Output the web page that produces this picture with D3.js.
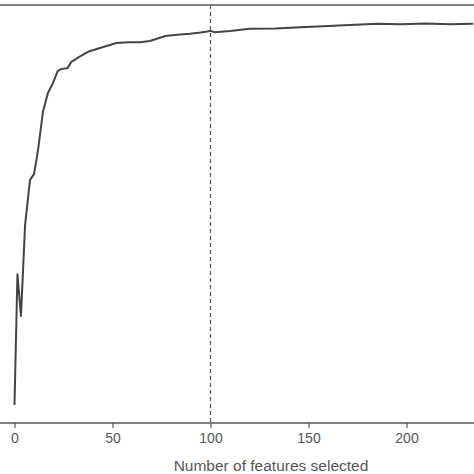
<!DOCTYPE html><html><head><meta charset="utf-8">
<script src="https://cdn.jsdelivr.net/npm/d3@7"></script>
<style>body{margin:0;background:#fff}</style></head><body><svg id="c" width="474" height="474"></svg>
<script>
const features=[0,1.5,3.3,5.4,7.9,10,12,14.5,17,19.6,22,24,27,29,33,37.5,43.6,52,58,64,69,77,83,89.5,95,100,102,110,120,133,146,160,171,185,197,210,222,234];
const scores=[0.043,0.356,0.256,0.474,0.581,0.596,0.653,0.744,0.789,0.813,0.842,0.847,0.849,0.864,0.876,0.888,0.897,0.909,0.911,0.911,0.914,0.926,0.929,0.931,0.934,0.938,0.935,0.938,0.943,0.944,0.947,0.950,0.952,0.955,0.954,0.956,0.954,0.955];
const xTicks=[0,50,100,150,200];
const selected=100;
const svg=d3.select("#c");
const x=d3.scaleLinear().domain([0,50]).range([14.5,112.5]);
const y=d3.scaleLinear().domain([0,1]).range([423,5]);
const col="#555";
svg.append("line").attr("x1",0).attr("x2",474).attr("y1",5).attr("y2",5).attr("stroke",col).attr("stroke-width",1.5);
const ax=svg.append("g").attr("transform","translate(0,423)").call(d3.axisBottom(x).tickValues(xTicks).tickSize(5).tickPadding(5));
ax.select(".domain").remove();
ax.append("line").attr("x1",0).attr("x2",474).attr("stroke",col).attr("stroke-width",1.5);
ax.selectAll(".tick line").attr("stroke",col).attr("stroke-width",1.2);
ax.selectAll("text").attr("fill",col).attr("font-size",14).attr("font-family","Liberation Sans, Arial");
svg.append("line").attr("x1",x(selected)).attr("x2",x(selected)).attr("y1",5).attr("y2",423).attr("stroke",col).attr("stroke-width",1.2).attr("stroke-dasharray","4,3");
svg.append("path").datum(features.map((f,i)=>[f,scores[i]])).attr("fill","none").attr("stroke","#444").attr("stroke-width",2).attr("stroke-linejoin","round")
 .attr("d",d3.line().x(d=>x(d[0])).y(d=>y(d[1])));
svg.append("text").attr("x",271).attr("y",471).attr("text-anchor","middle").attr("fill",col).attr("font-size",15.5).attr("font-family","Liberation Sans, Arial").text("Number of features selected");
</script></body></html>
